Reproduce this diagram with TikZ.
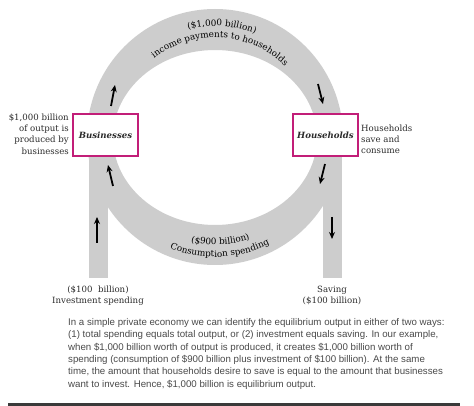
\documentclass[tikz,border=0pt]{standalone}
\usepackage{fontspec}
\setmainfont{DejaVu Serif}
\newfontfamily\parafont{Liberation Sans}
\usetikzlibrary{decorations.text,arrows.meta}
\definecolor{ringgray}{HTML}{CDCDCD}
\definecolor{boxpink}{HTML}{C21E78}
\definecolor{labelcol}{HTML}{2B2B2B}
\definecolor{paracol}{HTML}{4A4A4A}
\definecolor{barcol}{HTML}{3A3A3A}
\newcommand\lblfont{\fontsize{8.6}{11.2}\selectfont}
\newcommand\ringfont{\fontsize{8.8}{10}\selectfont}
\begin{document}
\begin{tikzpicture}[x=1pt,y=-1pt,
  sectorbox/.style={draw=boxpink, line width=2pt, fill=white, minimum width=65pt, minimum height=42pt, inner sep=0pt, font=\fontsize{8.6}{10}\selectfont\bfseries\itshape, text=labelcol},
  sidelabel/.style={inner sep=0pt, font=\lblfont, text=labelcol},
  flowarrow/.style={-{Stealth[length=7pt,width=6pt]}, line width=1.8pt, black},
  curvedtext/.style={shift={(215,137)}, decorate, decoration={text along path, text align=center}}
]
\useasboundingbox (0,0) rectangle (474,406);
\fill[white] (0,0) rectangle (474,406);

% ring and legs
\fill[ringgray, even odd rule] (215,137) circle[radius=128] (215,137.5) ellipse[x radius=102, y radius=87.5];
\fill[ringgray] (89,140) rectangle (108,278);
\fill[ringgray] (323,140) rectangle (342,278);

% curved labels
\path[curvedtext, decoration={text={|\ringfont|({\$}1,000 billion)}}]
  (183.6:111) arc[start angle=183.6, end angle=363.6, radius=111];
\path[curvedtext, decoration={text={|\ringfont|income payments to households}}]
  (183.5:99.5) arc[start angle=183.5, end angle=363.5, radius=99.5];
\path[curvedtext, decoration={text={|\ringfont|({\$}900 billion)}}]
  (177:108) arc[start angle=177, end angle=-3, radius=108];
\path[curvedtext, decoration={text={|\ringfont|Consumption spending}}]
  (177.5:120) arc[start angle=177.5, end angle=-2.5, radius=120];

% boxes
\node[sectorbox] (bus) at (105.5,135) {Businesses};
\node[sectorbox] (hh) at (325.5,135) {Households};

% side labels
\node[sidelabel, anchor=east, align=right] (buslbl) at (69,134) {\$1,000 billion\\of output is\\produced by\\businesses};
\node[sidelabel, anchor=west, align=left] (hhlbl) at (361,139) {Households\\save and\\consume};
\node[sidelabel, align=center] (inv) at (98,295.5) {(\$100\ \ billion)\\Investment spending};
\node[sidelabel, align=center] (sav) at (332,295.5) {Saving\\(\$100 billion)};

% arrows
\coordinate (a1s) at (111,106); \coordinate (a1e) at (115,85);
\coordinate (a2s) at (318,84);  \coordinate (a2e) at (323,104);
\coordinate (a3s) at (113,186); \coordinate (a3e) at (108,165);
\coordinate (a4s) at (325,164); \coordinate (a4e) at (320,184);
\coordinate (a5s) at (97,243);  \coordinate (a5e) at (97,217);
\coordinate (a6s) at (332,217); \coordinate (a6e) at (332,239);
\draw[flowarrow] (a1s) -- (a1e);
\draw[flowarrow] (a2s) -- (a2e);
\draw[flowarrow] (a3s) -- (a3e);
\draw[flowarrow] (a4s) -- (a4e);
\draw[flowarrow] (a5s) -- (a5e);
\draw[flowarrow] (a6s) -- (a6e);

% paragraph
\node[anchor=north west, inner sep=0pt, align=left, text=paracol, font=\parafont\fontsize{9.7}{12.4}\selectfont] (para) at (68,318)
{In a simple private economy we can identify the equilibrium output in either of two ways:\\
(1) total spending equals total output, or (2) investment equals saving. In our example,\\
when \$1,000 billion worth of output is produced, it creates \$1,000 billion worth of\\
spending (consumption of \$900 billion plus investment of \$100 billion). At the same\\
time, the amount that households desire to save is equal to the amount that businesses\\
want to invest. Hence, \$1,000 billion is equilibrium output.};

% bottom rule
\fill[barcol] (8,403) rectangle (460,406);
\end{tikzpicture}
\end{document}
